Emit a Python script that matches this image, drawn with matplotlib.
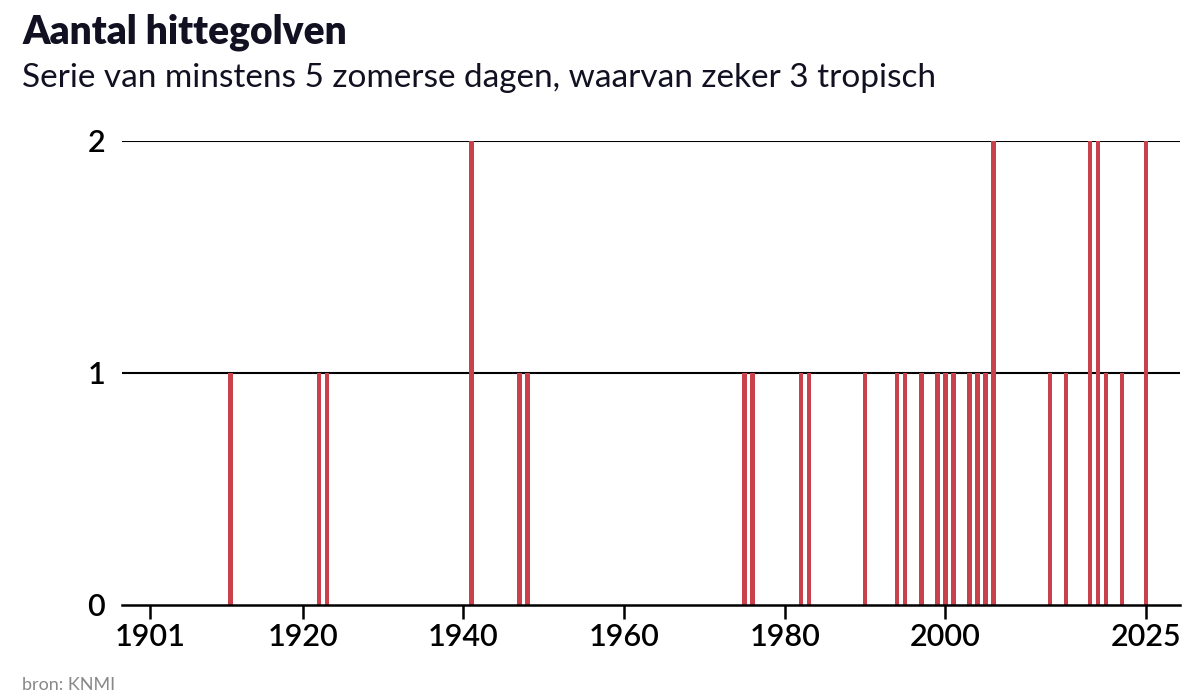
import matplotlib
matplotlib.use("Agg")
import matplotlib.pyplot as plt

years = [1911,1922,1923,1941,1947,1948,1975,1976,1982,1983,1990,1994,1995,1997,1999,2000,2001,2003,2004,2005,2006,2013,2015,2018,2019,2020,2022,2025]
counts = [1,1,1,2,1,1,1,1,1,1,1,1,1,1,1,1,1,1,1,1,2,1,1,2,2,1,1,2]
xticks = [1901,1920,1940,1960,1980,2000,2025]
yticks = [0,1,2]

plt.rcParams['font.family'] = ['Lato', 'DejaVu Sans']
fig = plt.figure(figsize=(12, 6.99), dpi=100)
ax = fig.add_axes([122/1200, 1-605/699, (1180-122)/1200, (605-141)/699])
ax.bar(years, counts, width=0.55, color='#c8414b', zorder=3)
ax.set_xlim(1897.5, 2029.2)
ax.set_ylim(0, 2)
ax.set_yticks(yticks)
ax.set_xticks(xticks)
for y in [1, 2]:
    ax.axhline(y, color='black', lw=1.5, zorder=2)
for s in ['top', 'right', 'left']:
    ax.spines[s].set_visible(False)
ax.spines['bottom'].set_linewidth(1.8)
ax.spines['bottom'].set_zorder(4)
ax.tick_params(axis='y', length=0, labelsize=22, pad=12)
ax.tick_params(axis='x', length=10, width=1.8, labelsize=22, pad=3)
for lab in ax.get_xticklabels() + ax.get_yticklabels():
    lab.set_fontweight('semibold')

fig.text(22/1200, 1-32/699, 'Aantal hittegolven', fontsize=28, fontweight='heavy', color='#111122', va='center')
fig.text(22/1200, 1-78/699, 'Serie van minstens 5 zomerse dagen, waarvan zeker 3 tropisch', fontsize=24, color='#111122', va='center')
fig.text(22/1200, 1-685/699, 'bron: KNMI', fontsize=13, color='#888888', va='center')
fig.savefig('out.png', dpi=100)
